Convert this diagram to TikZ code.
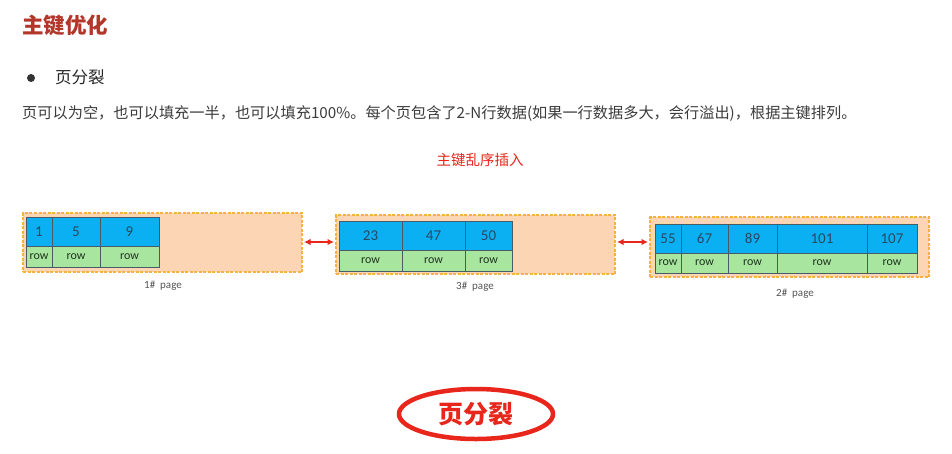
\documentclass[tikz,border=0pt]{standalone}
\usepackage{fontspec}
\setmainfont{Noto Sans CJK SC}
\newfontfamily\numfont{Carlito}
\usetikzlibrary{arrows.meta,shapes.geometric}
\definecolor{titlered}{HTML}{B3362A}
\definecolor{bodygray}{HTML}{3C3C3C}
\definecolor{hotred}{HTML}{E8261C}
\definecolor{cellblue}{HTML}{0AB0F2}
\definecolor{cellgreen}{HTML}{A8E6A0}
\definecolor{pagefill}{HTML}{FCD5B4}
\definecolor{pageedge}{HTML}{F7B13F}
\definecolor{cellline}{HTML}{4A5A66}
\definecolor{numtext}{HTML}{2A4862}
\definecolor{rowtext}{HTML}{1E321E}
\definecolor{lblgray}{HTML}{555555}
\tikzset{
  pagebox/.style={draw=pageedge, fill=pagefill, line width=1.8pt, dash pattern=on 3pt off 1.5pt, anchor=north west, inner sep=0pt, outer sep=0pt},
  bcell/.style={draw=cellline, fill=cellblue, line width=0.7pt, anchor=north west, inner sep=0pt, outer sep=0pt, text=numtext, font=\numfont\fontsize{15}{17}\selectfont},
  gcell/.style={draw=cellline, fill=cellgreen, line width=0.7pt, anchor=north west, inner sep=0pt, outer sep=0pt, text=rowtext, font=\numfont\fontsize{12}{14}\selectfont},
  plabel/.style={text=lblgray, font=\numfont\fontsize{11}{13}\selectfont},
  linkarrow/.style={draw=hotred, line width=1.8pt, {Latex[length=6.5pt,width=6.5pt]}-{Latex[length=6.5pt,width=6.5pt]}}
}
\begin{document}
\begin{tikzpicture}[x=1pt,y=-1pt]
\useasboundingbox[fill=white] (0,0) rectangle (952,453);
% heading texts
\node[anchor=west, inner sep=0pt, text=titlered, font=\bfseries\fontsize{21.5}{24}\selectfont] (title) at (22,25) {主键优化};
\node[circle, fill=black!80, inner sep=0pt, minimum size=8pt] (bul) at (31,78) {};
\node[anchor=west, inner sep=0pt, text=black!85, font=\fontsize{16.5}{19}\selectfont] (sub) at (55,77) {页分裂};
\node[anchor=west, inner sep=0pt, text=bodygray, font=\fontsize{15.2}{17}\selectfont] (para) at (22,114) {页可以为空，也可以填充一半，也可以填充100\%。每个页包含了2-N行数据(如果一行数据多大，会行溢出)，根据主键排列。};
\node[inner sep=0pt, text=hotred, font=\fontsize{14.5}{16}\selectfont] (hint) at (480,160) {主键乱序插入};
% page 1
\node[pagebox, minimum width=279pt, minimum height=59pt] (p1) at (23,213) {};
\foreach \a/\b/\t [count=\i] in {26/52/1,52/100/5,100/159/9}{
  \pgfmathsetmacro\w{\b-\a}
  \node[bcell, minimum width=\w pt, minimum height=29pt] (p1k\i) at (\a,217) {\t};
  \node[gcell, minimum width=\w pt, minimum height=21pt] (p1r\i) at (\a,246) {row};
}
\node[plabel] (l1) at (163,286) {1\#\ \ page};
% page 3
\node[pagebox, minimum width=279pt, minimum height=59pt] (p3) at (336,215) {};
\foreach \a/\b/\t [count=\i] in {339/402/23,402/465/47,465/512/50}{
  \pgfmathsetmacro\w{\b-\a}
  \node[bcell, minimum width=\w pt, minimum height=29pt] (p3k\i) at (\a,221) {\t};
  \node[gcell, minimum width=\w pt, minimum height=21pt] (p3r\i) at (\a,250) {row};
}
\node[plabel] (l3) at (475,287) {3\#\ \ page};
% page 2
\node[pagebox, minimum width=279pt, minimum height=60pt] (p2) at (650,217) {};
\foreach \a/\b/\t [count=\i] in {655/681/55,681/728/67,728/777/89,777/867/101,867/917/107}{
  \pgfmathsetmacro\w{\b-\a}
  \node[bcell, minimum width=\w pt, minimum height=29pt] (p2k\i) at (\a,224) {\t};
  \node[gcell, minimum width=\w pt, minimum height=20pt] (p2r\i) at (\a,253) {row};
}
\node[plabel] (l2) at (795,294) {2\#\ \ page};
% links
\coordinate (ya) at (0,242);
\draw[linkarrow] ([xshift=2pt]p1.east |- ya) -- ([xshift=-2pt]p3.west |- ya);
\draw[linkarrow] ([xshift=2pt]p3.east |- ya) -- ([xshift=-2pt]p2.west |- ya);
% ellipse
\node[ellipse, draw=hotred, line width=4.5pt, minimum width=154pt, minimum height=50pt, inner sep=0pt, text=hotred, font=\bfseries\fontsize{25}{28}\selectfont] (split) at (476,414) {页分裂};
\end{tikzpicture}
\end{document}
